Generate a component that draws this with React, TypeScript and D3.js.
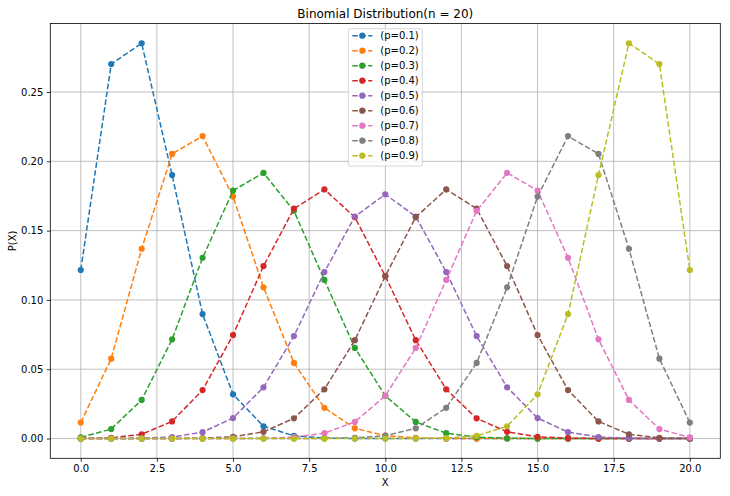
import React, { useEffect, useRef } from 'react';
import * as d3 from 'd3';

// P(X = k), n = 20, k = 0..20
const ks = d3.range(0, 21);
const probs = [0.1, 0.2, 0.3, 0.4, 0.5, 0.6, 0.7, 0.8, 0.9];
const colors = ['#1f77b4', '#ff7f0e', '#2ca02c', '#d62728', '#9467bd', '#8c564b', '#e377c2', '#7f7f7f', '#bcbd22'];

const p01 = [0.12158, 0.27017, 0.28518, 0.19012, 0.08978, 0.03192, 0.00887, 0.00197, 0.00036, 0.00005, 0.00001, 0, 0, 0, 0, 0, 0, 0, 0, 0, 0];
const p02 = [0.01153, 0.05765, 0.13691, 0.20536, 0.2182, 0.17456, 0.1091, 0.05455, 0.02216, 0.00739, 0.00203, 0.00046, 0.00009, 0.00001, 0, 0, 0, 0, 0, 0, 0];
const p03 = [0.0008, 0.00684, 0.02785, 0.0716, 0.13042, 0.17886, 0.19164, 0.16426, 0.1144, 0.06537, 0.03082, 0.01201, 0.00386, 0.00102, 0.00022, 0.00004, 0, 0, 0, 0, 0];
const p04 = [0.00004, 0.00049, 0.00309, 0.01235, 0.03499, 0.07465, 0.12441, 0.16588, 0.17971, 0.15974, 0.11714, 0.071, 0.0355, 0.01456, 0.00485, 0.00129, 0.00027, 0.00004, 0, 0, 0];
const p05 = [0, 0.00002, 0.00018, 0.00109, 0.00462, 0.01479, 0.03696, 0.07393, 0.12013, 0.16018, 0.1762, 0.16018, 0.12013, 0.07393, 0.03696, 0.01479, 0.00462, 0.00109, 0.00018, 0.00002, 0];
const p06 = [0, 0, 0, 0.00004, 0.00027, 0.00129, 0.00485, 0.01456, 0.0355, 0.071, 0.11714, 0.15974, 0.17971, 0.16588, 0.12441, 0.07465, 0.03499, 0.01235, 0.00309, 0.00049, 0.00004];
const p07 = [0, 0, 0, 0, 0, 0.00004, 0.00022, 0.00102, 0.00386, 0.01201, 0.03082, 0.06537, 0.1144, 0.16426, 0.19164, 0.17886, 0.13042, 0.0716, 0.02785, 0.00684, 0.0008];
const p08 = [0, 0, 0, 0, 0, 0, 0, 0.00001, 0.00009, 0.00046, 0.00203, 0.00739, 0.02216, 0.05455, 0.1091, 0.17456, 0.2182, 0.20536, 0.13691, 0.05765, 0.01153];
const p09 = [0, 0, 0, 0, 0, 0, 0, 0, 0, 0, 0.00001, 0.00005, 0.00036, 0.00197, 0.00887, 0.03192, 0.08978, 0.19012, 0.28518, 0.27017, 0.12158];
const series = [p01, p02, p03, p04, p05, p06, p07, p08, p09];

const xTicks = [0, 2.5, 5, 7.5, 10, 12.5, 15, 17.5, 20];
const yTicks = [0, 0.05, 0.1, 0.15, 0.2, 0.25];

const W = 730;
const H = 496;

export default function App() {
  const svgRef = useRef<SVGSVGElement>(null);

  useEffect(() => {
    if (!svgRef.current) return;
    const svg = d3.select(svgRef.current);
    svg.selectAll('*').remove();

    const left = 50.3, right = 720.3, top = 23.5, bottom = 458.3;
    const font = 'DejaVu Sans, sans-serif';

    const x = d3.scaleLinear().domain([-1, 21]).range([left, right]);
    const y = d3.scaleLinear().domain([-0.01426, 0.29944]).range([bottom, top]);

    svg.append('rect').attr('width', W).attr('height', H).attr('fill', '#fff');

    // grid
    const grid = svg.append('g').attr('stroke', '#b0b0b0').attr('stroke-width', 0.8);
    xTicks.forEach(t => {
      grid.append('line').attr('x1', x(t)).attr('x2', x(t)).attr('y1', top).attr('y2', bottom);
    });
    yTicks.forEach(t => {
      grid.append('line').attr('x1', left).attr('x2', right).attr('y1', y(t)).attr('y2', y(t));
    });

    // series
    const line = d3.line<number>().x((_, i) => x(ks[i])).y(d => y(d));
    series.forEach((vals, si) => {
      const g = svg.append('g');
      g.append('path')
        .datum(vals)
        .attr('fill', 'none')
        .attr('stroke', colors[si])
        .attr('stroke-width', 1.5)
        .attr('stroke-dasharray', '5.55,2.4')
        .attr('d', line);
      g.selectAll('circle')
        .data(vals)
        .enter()
        .append('circle')
        .attr('cx', (_, i) => x(ks[i]))
        .attr('cy', d => y(d))
        .attr('r', 3.1)
        .attr('fill', colors[si]);
    });

    // axes frame
    svg.append('rect')
      .attr('x', left).attr('y', top)
      .attr('width', right - left).attr('height', bottom - top)
      .attr('fill', 'none').attr('stroke', '#000').attr('stroke-width', 0.8);

    const xAxis = d3.axisBottom(x).tickValues(xTicks).tickFormat(d3.format('.1f')).tickSize(3.5).tickPadding(3.5);
    const yAxis = d3.axisLeft(y).tickValues(yTicks).tickFormat(d3.format('.2f')).tickSize(3.5).tickPadding(3.5);

    const gx = svg.append('g').attr('transform', `translate(0,${bottom})`).call(xAxis);
    const gy = svg.append('g').attr('transform', `translate(${left},0)`).call(yAxis);
    [gx, gy].forEach(g => {
      g.select('.domain').remove();
      g.selectAll('line').attr('stroke', '#000').attr('stroke-width', 0.8);
      g.selectAll('text').attr('font-family', font).attr('font-size', 10).attr('fill', '#000');
    });

    // labels
    svg.append('text')
      .attr('x', (left + right) / 2).attr('y', 18)
      .attr('text-anchor', 'middle')
      .attr('font-family', font).attr('font-size', 12)
      .text('Binomial Distribution(n = 20)');
    svg.append('text')
      .attr('x', (left + right) / 2).attr('y', 486)
      .attr('text-anchor', 'middle')
      .attr('font-family', font).attr('font-size', 10)
      .text('X');
    svg.append('text')
      .attr('transform', `translate(16,${(top + bottom) / 2}) rotate(-90)`)
      .attr('text-anchor', 'middle')
      .attr('font-family', font).attr('font-size', 10)
      .text('P(X)');

    // legend
    const lg = svg.append('g').attr('transform', 'translate(348.3,28.7)');
    lg.append('rect')
      .attr('width', 74).attr('height', 137.3).attr('rx', 2)
      .attr('fill', '#fff').attr('fill-opacity', 0.8)
      .attr('stroke', '#ccc').attr('stroke-width', 0.8);
    probs.forEach((p, i) => {
      const cy = 7 + i * 15;
      lg.append('line')
        .attr('x1', 4).attr('x2', 24).attr('y1', cy).attr('y2', cy)
        .attr('stroke', colors[i]).attr('stroke-width', 1.5)
        .attr('stroke-dasharray', '5.55,2.4');
      lg.append('circle').attr('cx', 14).attr('cy', cy).attr('r', 3.1).attr('fill', colors[i]);
      lg.append('text')
        .attr('x', 32).attr('y', cy + 3.6)
        .attr('font-family', font).attr('font-size', 10)
        .text(`(p=${p})`);
    });
  }, []);

  return <svg ref={svgRef} width={W} height={H} style={{ display: 'block', position: 'absolute', left: 0, top: 0 }} />;
}
